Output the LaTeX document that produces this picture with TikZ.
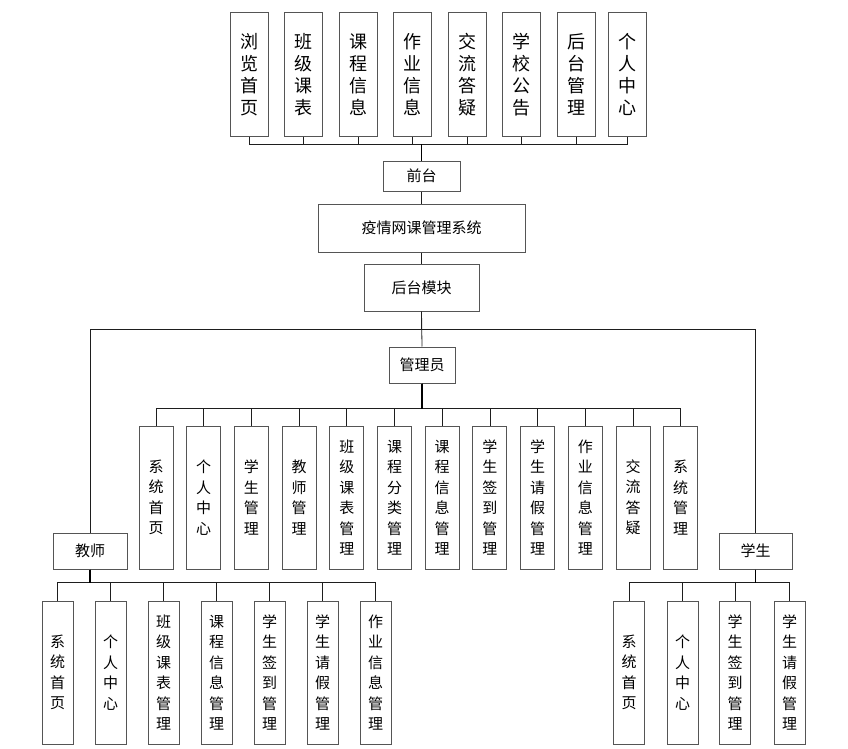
\documentclass[tikz,border=0pt]{standalone}
\usepackage{fontspec}
\newfontfamily\cjk{Noto Sans CJK SC}
\usetikzlibrary{positioning}
\definecolor{boxborder}{RGB}{85,85,85}
\definecolor{linkcolor}{RGB}{30,30,30}
\tikzset{
  topbox/.style={
    rectangle, draw=boxborder, fill=white, line width=1pt,
    minimum width=38pt, minimum height=123pt, inner sep=0pt,
    align=center, font={\cjk\fontsize{18}{22}\selectfont}},
  midbox/.style={
    rectangle, draw=boxborder, fill=white, line width=1pt,
    minimum width=34pt, minimum height=143pt, inner sep=0pt,
    align=center, font={\cjk\fontsize{15}{20.5}\selectfont}},
  lowbox/.style={
    rectangle, draw=boxborder, fill=white, line width=1pt,
    minimum width=31pt, minimum height=143pt, inner sep=0pt,
    align=center, font={\cjk\fontsize{15}{20.5}\selectfont}},
  hubbox/.style={
    rectangle, draw=boxborder, fill=white, line width=1pt,
    inner sep=0pt, align=center,
    font={\cjk\fontsize{15}{18}\selectfont}},
  link/.style={draw=linkcolor, line width=0.8pt},
  trunk/.style={draw=black, line width=1.8pt}
}

\begin{document}
\begin{tikzpicture}[x=1pt, y=-1pt]
  \useasboundingbox (0,0) rectangle (848,749);

  %% Row 1: front-end pages
  \node[topbox] (t1) at (249,74.5) {浏\\览\\首\\页};
  \node[topbox, right=15.5pt of t1] (t2) {班\\级\\课\\表};
  \node[topbox, right=15.5pt of t2] (t3) {课\\程\\信\\息};
  \node[topbox, right=15.5pt of t3] (t4) {作\\业\\信\\息};
  \node[topbox, right=15.5pt of t4] (t5) {交\\流\\答\\疑};
  \node[topbox, right=15.5pt of t5] (t6) {学\\校\\公\\告};
  \node[topbox, right=15.5pt of t6] (t7) {后\\台\\管\\理};
  \node[topbox, right=12.5pt of t7] (t8) {个\\人\\中\\心};

  %% Hubs in the middle
  \node[hubbox, minimum width=77pt, minimum height=30pt]
    (front) at (421.5,176) {前台};
  \node[hubbox, minimum width=207pt, minimum height=48pt,
        below=12pt of front] (sys) {疫情网课管理系统};
  \node[hubbox, minimum width=115pt, minimum height=47pt,
        below=11pt of sys] (back) {后台模块};
  \node[hubbox, minimum width=66pt, minimum height=36pt]
    (admin) at (422,365) {管理员};
  \node[hubbox, minimum width=74pt, minimum height=36pt]
    (teacher) at (90,551) {教师};
  \node[hubbox, minimum width=73pt, minimum height=36pt]
    (student) at (755.5,551) {学生};

  %% Row 2: admin functions
  \node[midbox] (m1) at (156,497.5) {系\\统\\首\\页};
  \node[midbox, right=12.7pt of m1]  (m2)  {个\\人\\中\\心};
  \node[midbox, right=12.7pt of m2]  (m3)  {学\\生\\管\\理};
  \node[midbox, right=12.7pt of m3]  (m4)  {教\\师\\管\\理};
  \node[midbox, right=12.7pt of m4]  (m5)  {班\\级\\课\\表\\管\\理};
  \node[midbox, right=12.7pt of m5]  (m6)  {课\\程\\分\\类\\管\\理};
  \node[midbox, right=12.7pt of m6]  (m7)  {课\\程\\信\\息\\管\\理};
  \node[midbox, right=12.7pt of m7]  (m8)  {学\\生\\签\\到\\管\\理};
  \node[midbox, right=12.7pt of m8]  (m9)  {学\\生\\请\\假\\管\\理};
  \node[midbox, right=12.7pt of m9]  (m10) {作\\业\\信\\息\\管\\理};
  \node[midbox, right=12.7pt of m10] (m11) {交\\流\\答\\疑};
  \node[midbox, right=12.7pt of m11] (m12) {系\\统\\管\\理};

  %% Row 3: teacher functions
  \node[lowbox] (c1) at (57.5,672.5) {系\\统\\首\\页};
  \node[lowbox, right=21pt of c1] (c2) {个\\人\\中\\心};
  \node[lowbox, right=21pt of c2] (c3) {班\\级\\课\\表\\管\\理};
  \node[lowbox, right=21pt of c3] (c4) {课\\程\\信\\息\\管\\理};
  \node[lowbox, right=21pt of c4] (c5) {学\\生\\签\\到\\管\\理};
  \node[lowbox, right=21pt of c5] (c6) {学\\生\\请\\假\\管\\理};
  \node[lowbox, right=21pt of c6] (c7) {作\\业\\信\\息\\管\\理};

  %% Row 3: student functions
  \node[lowbox] (s1) at (629,672.5) {系\\统\\首\\页};
  \node[lowbox, right=21.5pt of s1] (s2) {个\\人\\中\\心};
  \node[lowbox, right=20.5pt of s2] (s3) {学\\生\\签\\到\\管\\理};
  \node[lowbox, right=22.5pt of s3] (s4) {学\\生\\请\\假\\管\\理};

  %% Links: front-end pages -> front
  \draw[link] (t1.south) -- ++(0,8) -| (front.north);
  \draw[link] (t2.south) -- ++(0,8) -| (front.north);
  \draw[link] (t3.south) -- ++(0,8) -| (front.north);
  \draw[link] (t4.south) -- ++(0,8) -| (front.north);
  \draw[link] (t5.south) -- ++(0,8) -| (front.north);
  \draw[link] (t6.south) -- ++(0,8) -| (front.north);
  \draw[link] (t7.south) -- ++(0,8) -| (front.north);
  \draw[link] (t8.south) -- ++(0,8) -| (front.north);
  \draw[trunk] (front.north) -- ++(0,-17);

  %% Links: main spine
  \draw[link] (front.south) -- (sys.north);
  \draw[link] (sys.south)   -- (back.north);
  \draw[link] (back.south)  -- (admin.north);
  \draw[link] (back.south)  -- ++(0,18) -| (teacher.north);
  \draw[link] (back.south)  -- ++(0,18) -| (student.north);

  %% Links: admin -> functions
  \draw[link] (admin.south) -- ++(0,25) -| (m1.north);
  \draw[link] (admin.south) -- ++(0,25) -| (m2.north);
  \draw[link] (admin.south) -- ++(0,25) -| (m3.north);
  \draw[link] (admin.south) -- ++(0,25) -| (m4.north);
  \draw[link] (admin.south) -- ++(0,25) -| (m5.north);
  \draw[link] (admin.south) -- ++(0,25) -| (m6.north);
  \draw[link] (admin.south) -- ++(0,25) -| (m7.north);
  \draw[link] (admin.south) -- ++(0,25) -| (m8.north);
  \draw[link] (admin.south) -- ++(0,25) -| (m9.north);
  \draw[link] (admin.south) -- ++(0,25) -| (m10.north);
  \draw[link] (admin.south) -- ++(0,25) -| (m11.north);
  \draw[link] (admin.south) -- ++(0,25) -| (m12.north);
  \draw[trunk] (admin.south) -- ++(0,25);

  %% Links: teacher -> functions
  \draw[link] (teacher.south) -- ++(0,13) -| (c1.north);
  \draw[link] (teacher.south) -- ++(0,13) -| (c2.north);
  \draw[link] (teacher.south) -- ++(0,13) -| (c3.north);
  \draw[link] (teacher.south) -- ++(0,13) -| (c4.north);
  \draw[link] (teacher.south) -- ++(0,13) -| (c5.north);
  \draw[link] (teacher.south) -- ++(0,13) -| (c6.north);
  \draw[link] (teacher.south) -- ++(0,13) -| (c7.north);
  \draw[trunk] (teacher.south) -- ++(0,13);

  %% Links: student -> functions
  \draw[link] (student.south) -- ++(0,13) -| (s1.north);
  \draw[link] (student.south) -- ++(0,13) -| (s2.north);
  \draw[link] (student.south) -- ++(0,13) -| (s3.north);
  \draw[link] (student.south) -- ++(0,13) -| (s4.north);
  \draw[trunk] (student.south) -- ++(0,13);

\end{tikzpicture}
\end{document}
